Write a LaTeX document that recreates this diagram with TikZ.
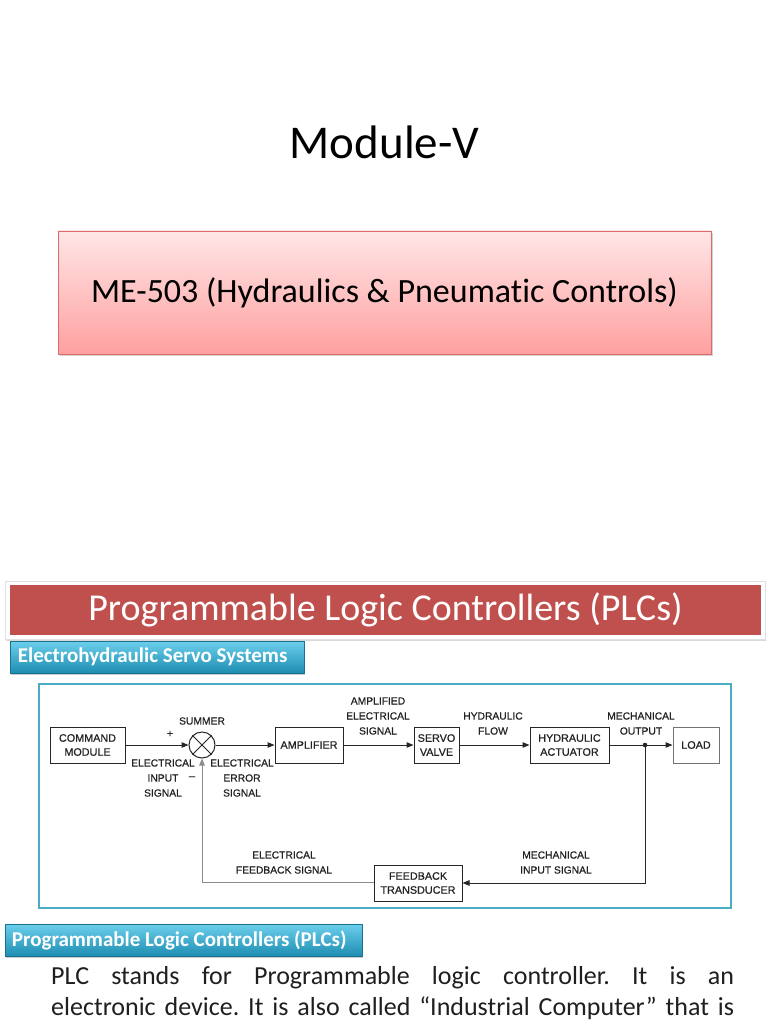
\documentclass[tikz,border=0pt]{standalone}
\usepackage{fontspec}
\setmainfont[Ligatures={NoCommon}]{Carlito}
\newfontfamily\arialf[FakeBold=0.6]{Liberation Sans}
\usetikzlibrary{arrows.meta,shadows,positioning}
\definecolor{banred}{HTML}{C0504D}
\definecolor{tabtop}{HTML}{6CCFEC}
\definecolor{tabbot}{HTML}{1E8DB2}
\definecolor{frameteal}{HTML}{4BACC6}
\definecolor{pinktop}{HTML}{FFE6E6}
\definecolor{pinkbot}{HTML}{FFA0A0}
\definecolor{pinkedge}{HTML}{DE6A6A}
\definecolor{dtext}{HTML}{222222}
\tikzset{
  blk/.style={draw=black!85, line width=1pt, fill=white, align=center, inner sep=1pt,
    font=\arialf\fontsize{10.8}{14}\selectfont, text=dtext},
  lbl/.style={align=center, inner sep=0pt, font=\arialf\fontsize{10.3}{15}\selectfont, text=dtext},
  conn/.style={line width=1pt, draw=black!85, -{Triangle[length=7pt,width=5.5pt]}},
  tabbox/.style={top color=tabtop, bottom color=tabbot, draw=tabbot!80!black, line width=0.6pt,
    inner sep=0pt, drop shadow={shadow xshift=1pt, shadow yshift=-2pt, fill=black!40}},
  tabtext/.style={anchor=west, inner sep=0pt, text=white, font=\bfseries\fontsize{21}{24}\selectfont},
  bodytext/.style={anchor=base west, inner sep=0pt, font=\fontsize{26}{31}\selectfont, text=black!88},
}
\frenchspacing
\begin{document}
\begin{tikzpicture}[x=1pt,y=-1pt]
\useasboundingbox (0,0) rectangle (768,1024);
\fill[white] (0,0) rectangle (768,1024);
% Title
\node[font=\fontsize{47}{52}\selectfont, anchor=base] (title) at (384.5,159) {Module-V};
% pink box
\node[minimum width=653pt, minimum height=123pt, top color=pinktop, bottom color=pinkbot,
  draw=pinkedge, line width=0.8pt, drop shadow={shadow xshift=1.5pt, shadow yshift=-2pt, fill=black!35},
  font=\fontsize{34}{38}\selectfont] (course) at (384.5,292.5) {ME-503 (Hydraulics \& Pneumatic Controls)};
% banner
\node[minimum width=760pt, minimum height=58pt, fill=white, draw=black!12, line width=0.5pt,
  drop shadow={shadow xshift=1pt, shadow yshift=-1.5pt, fill=black!30}] (banframe) at (385,610) {};
\node[minimum width=751pt, minimum height=50pt, fill=banred, inner sep=0pt, text=white,
  font=\fontsize{38}{42}\selectfont] (banner) at (385.5,610) {Programmable Logic Controllers (PLCs)};
% tab 1
\node[tabbox, minimum width=294pt, minimum height=32pt] (tab1) at (157,657) {};
\node[tabtext] (tab1text) at ([xshift=8pt]tab1.west) {Electrohydraulic Servo Systems};
% diagram frame
\node[draw=frameteal, line width=2pt, minimum width=692pt, minimum height=224pt, inner sep=0pt] (frame) at (385,796) {};
% blocks
\node[blk, minimum width=75pt, minimum height=36pt] (cmd) at (87.5,745) {COMMAND\\MODULE};
\node[draw=black!85, line width=1pt, circle, minimum size=26pt, inner sep=0pt] (sum) at (202,745) {};
\draw[line width=0.9pt, black!85] (sum.north west) -- (sum.south east) (sum.north east) -- (sum.south west);
\node[blk, minimum width=68pt, minimum height=36pt] (amp) at (309,745) {AMPLIFIER};
\node[blk, minimum width=45pt, minimum height=36pt] (servo) at (436.5,745) {SERVO\\VALVE};
\node[blk, minimum width=79pt, minimum height=36pt] (act) at (569.5,745) {HYDRAULIC\\ACTUATOR};
\node[blk, draw=black!55, minimum width=46pt, minimum height=36pt] (load) at (696,745) {LOAD};
\node[blk, minimum width=88pt, minimum height=36pt] (fbt) at (418,883) {FEEDBACK\\TRANSDUCER};
\coordinate (tap) at (645,745);
\fill[black!85] (tap) circle (2.3pt);
\coordinate (tapdown) at (645,883);
\coordinate (fbleft) at (202,882);
% connectors
\draw[conn] (cmd.east) -- (sum.west);
\draw[conn] (sum.east) -- (amp.west);
\draw[conn] (amp.east) -- (servo.west);
\draw[conn] (servo.east) -- (act.west);
\draw[conn] (act.east) -- (load.west);
\draw[conn] (tap) -- (tapdown) -- (fbt.east);
\draw[conn, draw=black!45] (fbt.west |- fbleft) -- (fbleft) -- (sum.south);
% labels
\node[lbl] (lsum) at (202,721) {SUMMER};
\node[lbl, font=\arialf\fontsize{11}{12}\selectfont] (lplus) at (170,734) {+};
\node[lbl, font=\arialf\fontsize{11}{12}\selectfont] (lminus) at (192,778) {\textendash};
\node[lbl] (lin) at (163,778) {ELECTRICAL\\INPUT\\SIGNAL};
\node[lbl] (lerr) at (242,778) {ELECTRICAL\\ERROR\\SIGNAL};
\node[lbl] (lampsig) at (378,716) {AMPLIFIED\\ELECTRICAL\\SIGNAL};
\node[lbl] (lflow) at (493,723.5) {HYDRAULIC\\FLOW};
\node[lbl] (lout) at (641,723.5) {MECHANICAL\\OUTPUT};
\node[lbl] (lfb) at (284,862.5) {ELECTRICAL\\FEEDBACK SIGNAL};
\node[lbl] (lmin) at (556,862.5) {MECHANICAL\\INPUT SIGNAL};
% tab 2
\node[tabbox, minimum width=357pt, minimum height=32pt] (tab2) at (183.5,940) {};
\node[tabtext] (tab2text) at ([xshift=7pt]tab2.west) {Programmable Logic Controllers (PLCs)};
% body text
\node[bodytext] (body1) at (51,984)
  {\makebox[683pt][s]{PLC stands for Programmable logic controller. It is an}};
\node[bodytext] (body2) at (51,1015)
  {\makebox[683pt][s]{electronic device. It is also called “Industrial Computer” that is}};
\end{tikzpicture}
\end{document}
